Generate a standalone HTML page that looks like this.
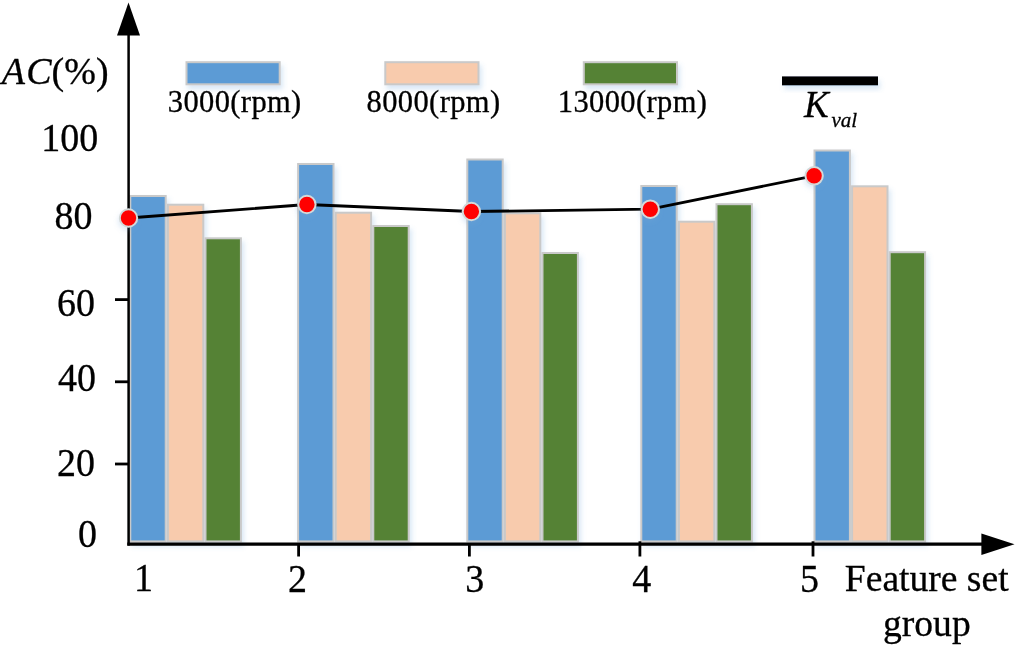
<!DOCTYPE html>
<html><head><meta charset="utf-8"><title>AC chart</title>
<style>
html,body{margin:0;padding:0;background:#fff;}
body{width:1018px;height:645px;overflow:hidden;}
svg{display:block;}
text{font-family:"Liberation Serif","Times New Roman",serif;fill:#000;stroke:#000;stroke-width:0.3px;}
.n{font-size:38px;}
.l{font-size:30.5px;letter-spacing:0.38px;}
.f{font-size:37.6px;}
.i{font-style:italic;}
</style></head><body>
<svg width="1018" height="645" viewBox="0 0 1018 645">
<defs>
<filter id="sh" x="-20%" y="-20%" width="150%" height="150%">
<feDropShadow dx="2.2" dy="4" stdDeviation="2.6" flood-color="#5b9bd5" flood-opacity="0.23"/>
</filter>
<filter id="sd" x="-50%" y="-50%" width="200%" height="200%">
<feDropShadow dx="-1" dy="3" stdDeviation="2.5" flood-color="#7aa7d8" flood-opacity="0.22"/>
</filter>
</defs>
<rect width="1018" height="645" fill="#fff"/>
<g filter="url(#sh)">
<rect x="130.30" y="196.00" width="35.40" height="345.40" fill="#5b9bd5" stroke="#c9c9c9" stroke-width="2.0"/>
<rect x="167.90" y="204.70" width="35.40" height="336.70" fill="#f8cbad" stroke="#c9c9c9" stroke-width="2.0"/>
<rect x="205.50" y="238.30" width="35.40" height="303.10" fill="#548235" stroke="#c9c9c9" stroke-width="2.0"/>
<rect x="298.10" y="164.00" width="35.40" height="377.40" fill="#5b9bd5" stroke="#c9c9c9" stroke-width="2.0"/>
<rect x="335.70" y="212.70" width="35.40" height="328.70" fill="#f8cbad" stroke="#c9c9c9" stroke-width="2.0"/>
<rect x="373.30" y="226.00" width="35.40" height="315.40" fill="#548235" stroke="#c9c9c9" stroke-width="2.0"/>
<rect x="467.30" y="159.50" width="35.40" height="381.90" fill="#5b9bd5" stroke="#c9c9c9" stroke-width="2.0"/>
<rect x="504.90" y="213.30" width="35.40" height="328.10" fill="#f8cbad" stroke="#c9c9c9" stroke-width="2.0"/>
<rect x="542.50" y="253.00" width="35.40" height="288.40" fill="#548235" stroke="#c9c9c9" stroke-width="2.0"/>
<rect x="641.30" y="186.00" width="35.40" height="355.40" fill="#5b9bd5" stroke="#c9c9c9" stroke-width="2.0"/>
<rect x="678.90" y="221.70" width="35.40" height="319.70" fill="#f8cbad" stroke="#c9c9c9" stroke-width="2.0"/>
<rect x="716.50" y="204.20" width="35.40" height="337.20" fill="#548235" stroke="#c9c9c9" stroke-width="2.0"/>
<rect x="814.50" y="150.50" width="35.40" height="390.90" fill="#5b9bd5" stroke="#c9c9c9" stroke-width="2.0"/>
<rect x="852.10" y="186.30" width="35.40" height="355.10" fill="#f8cbad" stroke="#c9c9c9" stroke-width="2.0"/>
<rect x="889.70" y="252.20" width="35.40" height="289.20" fill="#548235" stroke="#c9c9c9" stroke-width="2.0"/>
</g>
<g filter="url(#sh)"><rect x="186.5" y="62.2" width="93.2" height="22.1" fill="#5b9bd5" stroke="#c9c9c9" stroke-width="2"/><rect x="385.3" y="62.2" width="93.2" height="22.1" fill="#f8cbad" stroke="#c9c9c9" stroke-width="2"/><rect x="583.8" y="62.2" width="93.2" height="22.1" fill="#548235" stroke="#c9c9c9" stroke-width="2"/>
<rect x="782" y="76.4" width="96" height="9" fill="#000"/>
</g>
<!-- axes -->
<g stroke="#000" stroke-width="2.8" fill="none">
<line x1="128.6" y1="30" x2="128.6" y2="545.6" stroke-width="2.5"/>
<line x1="127.3" y1="544.1" x2="985" y2="544.1" stroke-width="3.1"/>
<line x1="115" y1="299.6" x2="128" y2="299.6"/>
<line x1="115" y1="381.8" x2="128" y2="381.8"/>
<line x1="115" y1="464" x2="128" y2="464"/>
<line x1="298.6" y1="543" x2="298.6" y2="556.5"/>
<line x1="469.4" y1="543" x2="469.4" y2="556.5"/>
<line x1="639.9" y1="541.3" x2="639.9" y2="556.5"/>
<line x1="813" y1="541.3" x2="813" y2="556.5"/>
</g>
<polygon points="128.5,2.5 117,35.5 140,35.5" fill="#000"/>
<polygon points="1014.5,544.2 981.4,533.5 981.4,555" fill="#000"/>
<polyline points="128.5,218.0 306.9,204.5 471.4,211.5 650.3,209.2 814.1,175.8" fill="none" stroke="#000" stroke-width="2.8" stroke-linejoin="round"/>
<g filter="url(#sd)"><circle cx="128.5" cy="218.0" r="8.7" fill="#ff0000" stroke="#d3d9d9" stroke-width="2"/><circle cx="306.9" cy="204.5" r="8.7" fill="#ff0000" stroke="#d3d9d9" stroke-width="2"/><circle cx="471.4" cy="211.5" r="8.7" fill="#ff0000" stroke="#d3d9d9" stroke-width="2"/><circle cx="650.3" cy="209.2" r="8.7" fill="#ff0000" stroke="#d3d9d9" stroke-width="2"/><circle cx="814.1" cy="175.8" r="8.7" fill="#ff0000" stroke="#d3d9d9" stroke-width="2"/></g>
<!-- text -->
<text class="n i" x="1.8" y="84" letter-spacing="1.2">AC</text>
<text class="n" x="51.6" y="84">(%)</text>
<text class="n" transform="translate(41.2,151.2) scale(1,1.037)">100</text>
<text class="n" transform="translate(54.5,228.7) scale(1,1.037)">80</text>
<text class="n" transform="translate(57,315.8) scale(1,1.037)">60</text>
<text class="n" transform="translate(58,391.1) scale(1,1.037)">40</text>
<text class="n" transform="translate(57,476.1) scale(1,1.037)">20</text>
<text class="n" transform="translate(78,546.9) scale(1,1.037)">0</text>
<text class="n" transform="translate(134,591.3) scale(1,1.037)">1</text>
<text class="n" transform="translate(288,591.5) scale(1,1.037)">2</text>
<text class="n" transform="translate(465.3,591.8) scale(1,1.037)">3</text>
<text class="n" transform="translate(632.3,591.5) scale(1,1.037)">4</text>
<text class="n" transform="translate(800,591.5) scale(1,1.037)">5</text>
<text class="f" x="844.8" y="590.6">Feature set</text>
<text class="f" x="883" y="636.2">group</text>
<text class="l" x="167.8" y="111.5">3000(rpm)</text>
<text class="l" x="366.6" y="111.5">8000(rpm)</text>
<text class="l" x="557.8" y="111.5">13000(rpm)</text>
<text class="i" x="804" y="116.8" font-size="37">K</text>
<text class="i" x="831.5" y="126.7" font-size="21">val</text>
</svg>
</body></html>
